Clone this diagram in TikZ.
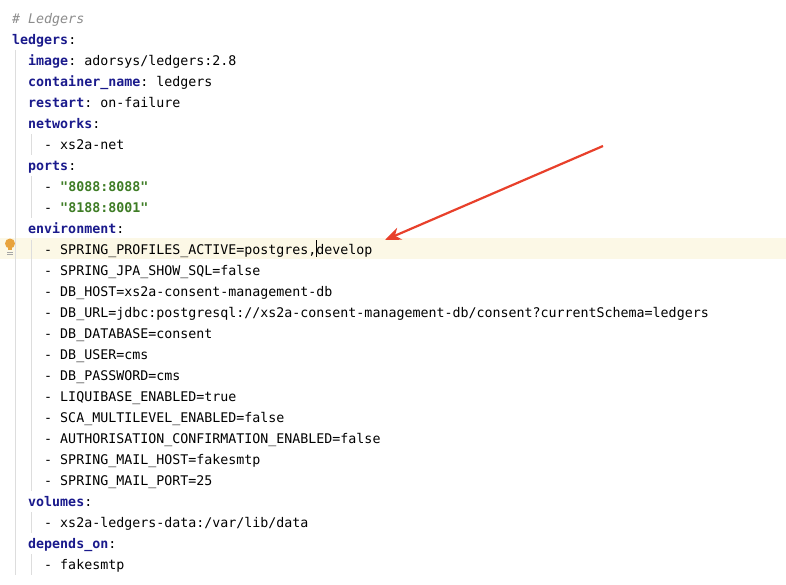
\documentclass[tikz,border=0pt]{standalone}
\usepackage{fontspec}
\usetikzlibrary{arrows.meta}
\setmonofont{DejaVu Sans Mono}
\definecolor{keyc}{HTML}{1A1A8C}
\definecolor{strc}{HTML}{3E7C25}
\definecolor{comc}{HTML}{8C8C8C}
\definecolor{hl}{HTML}{FCF8E6}
\definecolor{guide}{HTML}{DDDDDD}
\definecolor{arr}{HTML}{E8402B}
\definecolor{bulb}{HTML}{E8A33D}
\newcommand{\kk}[1]{\textcolor{keyc}{\bfseries #1}}
\newcommand{\sv}[1]{\textcolor{strc}{\bfseries #1}}
\newcommand{\ia}{\phantom{xx}}
\newcommand{\ib}{\phantom{xxxx}}
\begin{document}
\begin{tikzpicture}[x=1pt,y=-1pt,font=\ttfamily\fontsize{13.3}{15}\selectfont,
  ln/.style={anchor=base west,inner sep=0pt,text=black}]
\useasboundingbox[fill=white] (0,0) rectangle (786,584);
\fill[hl] (0,238) rectangle (786,259);
\draw[guide] (15,50) -- (15,575);
\draw[guide] (31,134) -- (31,155);
\draw[guide] (31,176) -- (31,218);
\draw[guide] (31,240) -- (31,491);
\draw[guide] (31,512) -- (31,533);
\draw[guide] (31,554) -- (31,575);
\foreach \t [count=\i from 0] in {
 {\textcolor{comc}{\itshape \# Ledgers}},
 {\kk{ledgers}:},
 {\ia\kk{image}: adorsys/ledgers:2.8},
 {\ia\kk{container\_name}: ledgers},
 {\ia\kk{restart}: on-failure},
 {\ia\kk{networks}:},
 {\ib- xs2a-net},
 {\ia\kk{ports}:},
 {\ib- \sv{"8088:8088"}},
 {\ib- \sv{"8188:8001"}},
 {\ia\kk{environment}:},
 {\ib- SPRING\_PROFILES\_ACTIVE=postgres,develop},
 {\ib- SPRING\_JPA\_SHOW\_SQL=false},
 {\ib- DB\_HOST=xs2a-consent-management-db},
 {\ib- DB\_URL=jdbc:postgresql://xs2a-consent-management-db/consent?currentSchema=ledgers},
 {\ib- DB\_DATABASE=consent},
 {\ib- DB\_USER=cms},
 {\ib- DB\_PASSWORD=cms},
 {\ib- LIQUIBASE\_ENABLED=true},
 {\ib- SCA\_MULTILEVEL\_ENABLED=false},
 {\ib- AUTHORISATION\_CONFIRMATION\_ENABLED=false},
 {\ib- SPRING\_MAIL\_HOST=fakesmtp},
 {\ib- SPRING\_MAIL\_PORT=25},
 {\ia\kk{volumes}:},
 {\ib- xs2a-ledgers-data:/var/lib/data},
 {\ia\kk{depends\_on}:},
 {\ib- fakesmtp}}
 \node[ln] (l\i) at (12,{23+21*\i}) {\t};
\fill[black] (315.5,240) rectangle (317,257);
\fill[bulb] (10,243.5) circle (5);
\fill[bulb] (8,247) rectangle (12,250);
\draw[gray!70,line width=0.8pt] (7,252) -- (13,252) (7,254.5) -- (13,254.5);
\coordinate (as) at (603,146);
\coordinate (ae) at (385,240);
\draw[arr,line width=2.2pt,-{Stealth[length=16pt,width=13pt]}] (as) -- (ae);
\end{tikzpicture}
\end{document}
